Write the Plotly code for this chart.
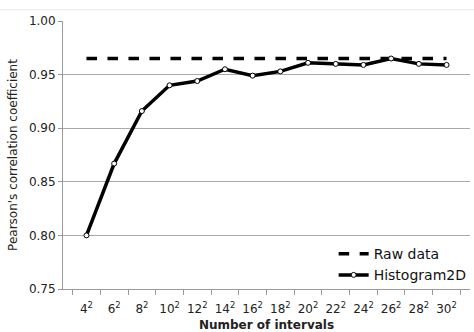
import plotly.graph_objects as go

# Grid resolutions (intervals per axis, squared)
sides = [4, 6, 8, 10, 12, 14, 16, 18, 20, 22, 24, 26, 28, 30]
categories = [f"{s}<sup>2</sup>" for s in sides]

# Pearson's correlation coefficient per resolution
hist2d = [0.800, 0.867, 0.916, 0.940, 0.944, 0.955, 0.949, 0.953,
          0.961, 0.960, 0.959, 0.965, 0.960, 0.959]
raw_value = 0.965
raw = [raw_value] * len(categories)

font_family = "DejaVu Sans, Verdana, sans-serif"

fig = go.Figure()
fig.add_trace(go.Scatter(
    x=categories, y=raw, mode="lines", name="Raw data",
    line=dict(color="black", width=3.5, dash="dash"),
))
fig.add_trace(go.Scatter(
    x=categories, y=hist2d, mode="lines+markers", name="Histogram2D",
    line=dict(color="black", width=3.5),
    marker=dict(symbol="circle", size=5, color="white",
                line=dict(color="black", width=1)),
))

fig.update_layout(
    width=474, height=332,
    margin=dict(l=63, r=4, t=21, b=43, autoexpand=False),
    plot_bgcolor="white", paper_bgcolor="white",
    font=dict(family=font_family, color="#222", size=12),
    showlegend=True,
    legend=dict(x=0.665, y=0.19, xanchor="left", yanchor="top",
                bgcolor="rgba(0,0,0,0)", font=dict(size=14, color="#111"),
                itemwidth=30, tracegroupgap=0),
)
fig.update_xaxes(
    type="category", tickson="boundaries", tickangle=0,
    ticks="outside", ticklen=5, tickcolor="#999",
    ticklabelstandoff=9,
    showline=True, linecolor="#999", linewidth=1,
    showgrid=False, tickfont=dict(size=12),
    automargin=False,
    title=dict(text="<b>Number of intervals</b>", font=dict(size=12), standoff=9),
)
fig.update_yaxes(
    range=[0.75, 1.0], dtick=0.05, tickformat=".2f",
    ticks="outside", ticklen=4, tickcolor="#999",
    showline=True, linecolor="#999", linewidth=1,
    showgrid=True, gridcolor="#aaa", gridwidth=1,
    zeroline=False, tickfont=dict(size=12),
    title=dict(text="Pearson's correlation coefficient", font=dict(size=12), standoff=8),
)

# faint rule across the top of the figure
fig.add_shape(type="line", xref="paper", yref="paper",
              x0=-0.2, x1=1.02, y0=1.042, y1=1.042,
              line=dict(color="#e6e6e6", width=1))

fig.write_html("out.html")
